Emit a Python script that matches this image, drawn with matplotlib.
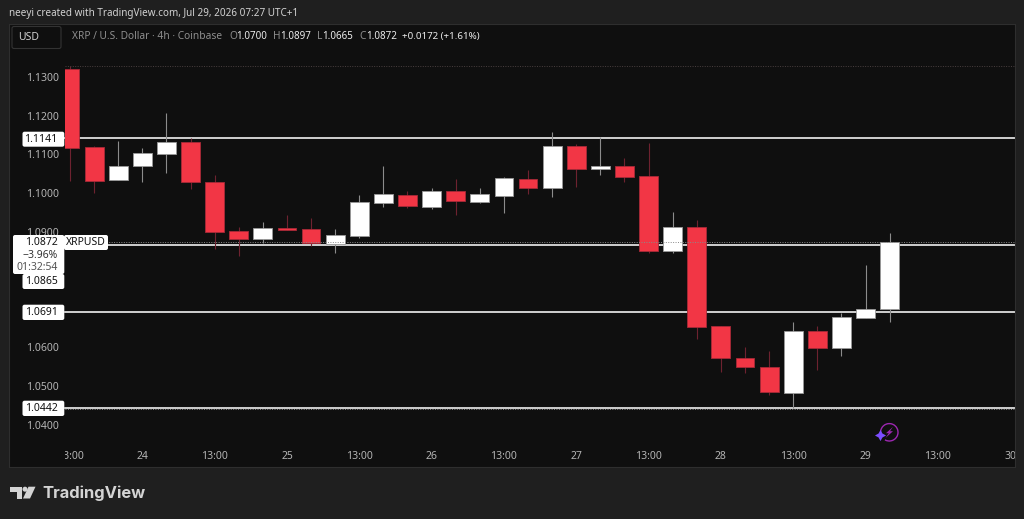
import matplotlib
matplotlib.use("Agg")
import numpy as np
import matplotlib.pyplot as plt
from matplotlib.patches import FancyBboxPatch, Polygon, Circle, Arc
from matplotlib.transforms import Bbox

plt.rcParams['font.family'] = ['Noto Sans', 'DejaVu Sans']

#candles, 4h bars

opens = [1.1320, 1.1118, 1.1033, 1.1069, 1.1102, 1.1132, 1.1029, 1.0901, 1.0881, 1.0908,
         1.0906, 1.0868, 1.0889, 1.0975, 1.0995, 1.0964, 1.1005, 1.0977, 1.0993, 1.1036,
         1.1013, 1.1121, 1.1063, 1.1069, 1.1044, 1.0850, 1.0912, 1.0654, 1.0572, 1.0548,
         1.0482, 1.0641, 1.0598, 1.0675, 1.0700]
highs = [1.1329, 1.1121, 1.1134, 1.1116, 1.1208, 1.1142, 1.1046, 1.0911, 1.0925, 1.0943,
         1.0934, 1.0906, 1.0995, 1.1070, 1.1005, 1.1012, 1.1035, 1.1012, 1.1040, 1.1059,
         1.1157, 1.1126, 1.1144, 1.1091, 1.1129, 1.0950, 1.0929, 1.0654, 1.0600, 1.0590,
         1.0666, 1.0656, 1.0690, 1.0812, 1.0897]
lows = [1.1030, 1.1001, 1.1033, 1.1029, 1.1052, 1.1009, 1.0855, 1.0837, 1.0871, 1.0905,
        1.0862, 1.0845, 1.0882, 1.0964, 1.0962, 1.0958, 1.0943, 1.0975, 1.0947, 1.0997,
        1.0990, 1.1015, 1.1046, 1.1028, 1.0844, 1.0844, 1.0621, 1.0537, 1.0534, 1.0476,
        1.0442, 1.0541, 1.0577, 1.0675, 1.0665]
closes = [1.1116, 1.1032, 1.1070, 1.1103, 1.1131, 1.1029, 1.0900, 1.0881, 1.0908, 1.0905,
          1.0869, 1.0891, 1.0976, 1.0996, 1.0965, 1.1005, 1.0979, 1.0996, 1.1038, 1.1013,
          1.1121, 1.1061, 1.1069, 1.1042, 1.0850, 1.0912, 1.0652, 1.0573, 1.0549, 1.0484,
          1.0641, 1.0598, 1.0678, 1.0700, 1.0872]

price_ticks = [1.13, 1.12, 1.11, 1.10, 1.09, 1.06, 1.05, 1.04]
time_ticks = [0, 3, 6, 9, 12, 15, 18, 21, 24, 27, 30, 33, 36, 39]
time_labels = ['13:00', '24', '13:00', '25', '13:00', '26', '13:00', '27', '13:00', '28', '13:00', '29', '13:00', '30']
level_lines = [1.1141, 1.0865, 1.0691, 1.0442]
dotted_lines = [1.1329, 1.0872, 1.0440]

RED = '#f23645'
WHITE = '#ffffff'
PANE = '#0f0f0f'
OUTER = '#1f1f1f'

fig = plt.figure(figsize=(10.24, 5.19), dpi=100, facecolor=OUTER)

#price pane

ax = fig.add_axes([9 / 1024, (519 - 467) / 519, 1006 / 1024, 443 / 519], facecolor=PANE)
ax.set_xlim(-2.53, 39.2)
ax.set_ylim(1.02899, 1.14376)
for s in ax.spines.values():
    s.set_color('#2e2e2e')
    s.set_linewidth(0.8)

for level in level_lines:
    ax.axhline(level, xmin=0.0557, color='#f0f0f0', lw=1.2, zorder=1)
for level, col in zip(dotted_lines, ['#4a4040', '#8a8a8a', '#8a8a8a']):
    ax.axhline(level, xmin=0.0557, color=col, lw=0.7, ls=(0, (1, 1.5)), zorder=4)

#plot the candles, the plot area starts right of the price labels

plot_clip = Bbox.from_extents(65, 0, 1024, 519)
idx = np.arange(len(opens))
o = np.array(opens)
c = np.array(closes)
up = c >= o
colors = [WHITE if u else RED for u in up]
edges = ['#9a9a9a' if u else '#a82a38' for u in up]
wicks = ['#8c8c8c' if u else '#6e2230' for u in up]
ax.vlines(idx, lows, highs, colors=wicks, lw=0.8, zorder=2)
bars = ax.bar(idx, np.abs(c - o), bottom=np.minimum(o, c), width=0.78, color=colors,
              edgecolor=edges, linewidth=0.6, zorder=3)
for b in bars:
    b.set_clip_box(plot_clip)

ax.set_yticks(price_ticks)
ax.set_yticklabels(['%.4f' % p for p in price_ticks])
ax.set_xticks(time_ticks)
ax.set_xticklabels(time_labels)
ax.tick_params(axis='y', length=0, pad=-36, labelsize=7.5, labelcolor='#b4b4b4')
ax.tick_params(axis='x', length=0, pad=-11.3, labelsize=7.5, labelcolor='#b4b4b4')
for lab in ax.get_yticklabels():
    lab.set_ha('right')
first = ax.get_xticklabels()[0]
first.set_clip_on(True)
first.set_clip_box(plot_clip)

#overlay in pixels for the labels and logos

ov = fig.add_axes([0, 0, 1, 1], facecolor='none', zorder=5)
ov.set_xlim(0, 1024)
ov.set_ylim(519, 0)
ov.axis('off')


def box(x0, y0, x1, y1, fc='white', ec='none'):
    ov.add_patch(FancyBboxPatch((x0, y0), x1 - x0, y1 - y0, boxstyle='round,pad=0,rounding_size=2',
                                fc=fc, ec=ec, lw=0.8))


def label(x, y, s, color='#111111', ha='right', size=7.5, weight='normal'):
    ov.text(x, y, s, color=color, ha=ha, va='center', fontsize=size, fontweight=weight)


ov.text(9, 13.5, 'neeyi created with TradingView.com, Jul 29, 2026 07:27 UTC+1', color='#d2d2d2',
        ha='left', va='center', fontsize=7.15, fontweight='medium')

box(12, 26.5, 61, 48.5, fc='none', ec='#333333')
label(29, 37.7, 'USD', color='#d0d0d0', size=7.5, ha='center')

label(72, 36.5, 'XRP / U.S. Dollar · 4h · Coinbase', color='#8e8e8e', ha='left', size=7.35)
for x, letter, val in [(229, 'O', '1.0700'), (273, 'H', '1.0897'), (317, 'L', '1.0665'), (359, 'C', '1.0872')]:
    label(x, 36.5, letter, color='#8e8e8e', ha='left', size=7.35)
    label(x + 7 if letter != 'L' else x + 5.5, 36.5, val, color='#ececec', ha='left', size=7.1, weight='bold')
label(402, 36.5, '+0.0172 (+1.61%)', color='#ececec', ha='left', size=7.0, weight='bold')

for y0, y1, s in [(131.7, 146.7, '1.1141'), (304.7, 320, '1.0691'), (400.7, 416, '1.0442'), (274, 289, '1.0865')]:
    box(22.5, y0, 64.3, y1)
    label(57.5, (y0 + y1) / 2, s)

box(13, 235, 64.3, 274)
label(57.5, 242.5, '1.0872')
label(57.5, 255, '−3.96%', color='#333333')
label(57.5, 267, '01:32:54', color='#555555')
box(64, 235, 108, 250)
label(86, 242.5, 'XRPUSD', ha='center')

#tradingview logo

logo = '#d4d4d4'
ov.add_patch(Polygon([(10, 486.7), (22, 486.7), (22, 498.5), (16.5, 498.5), (16.5, 491.7), (10, 491.7)], fc=logo, ec='none'))
ov.add_patch(Circle((25, 489.2), 2.5, fc=logo, ec='none'))
ov.add_patch(Polygon([(28.5, 486.7), (35.5, 486.7), (30, 498.5), (23, 498.5)], fc=logo, ec='none'))
ov.text(42, 493.5, 'TradingView', color=logo, ha='left', va='center', fontsize=11.9,
        fontweight='bold', family=['Inter', 'DejaVu Sans'])

#purple icon near the time axis

ov.add_patch(Arc((889.3, 432.3), 17.4, 17.4, theta1=-215, theta2=120, color='#9c27b0', lw=1.0))
ov.add_patch(Polygon([(893, 426.8), (886, 433.2), (888.8, 433.2), (885.5, 438), (893, 431.2), (890, 431.2)],
                     fc='#9c27b0', ec='none'))
ov.plot([880], [435.3], marker=(4, 1, 0), ms=8, color='#7c4dff', mec='none')

fig.savefig('out.png', dpi=100, facecolor=OUTER)
